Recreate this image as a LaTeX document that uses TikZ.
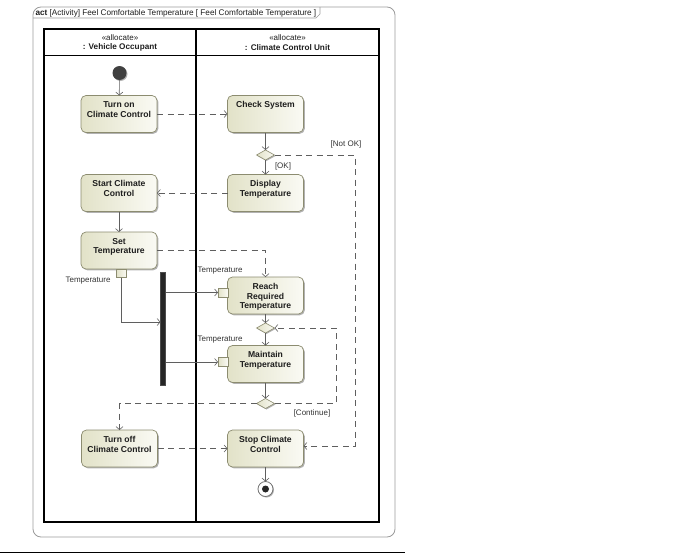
\documentclass[tikz,border=0pt]{standalone}
\usepackage{fontspec}
\setmainfont{Liberation Sans}
\usetikzlibrary{arrows.meta,shapes.geometric,shadows,calc}
\definecolor{nodefill}{RGB}{226,226,200}
\definecolor{nodelight}{RGB}{250,250,244}
\definecolor{nodeborder}{RGB}{140,140,112}
\definecolor{lineclr}{RGB}{95,95,95}
\definecolor{framegray}{RGB}{155,155,155}
\definecolor{txt}{RGB}{30,30,30}
\newcommand\acttxt[1]{\parbox[c][37pt][t]{76pt}{\centering\vspace*{6pt}#1\par}}
\begin{document}
\begin{tikzpicture}[x=1pt,y=-1pt,
  every node/.style={inner sep=0pt,outer sep=0pt,text=txt},
  action/.style={draw=nodeborder,line width=0.7pt,rounded corners=5pt,
    left color=nodefill,right color=nodelight,
    minimum width=76pt,minimum height=37pt,
    drop shadow={shadow xshift=1.3pt,shadow yshift=-1.3pt,opacity=0.3,fill=black},
    font=\fontsize{8.6}{9.8}\selectfont\bfseries},
  pinbox/.style={draw=nodeborder,line width=0.6pt,left color=nodefill,right color=nodelight,
    minimum width=10pt,minimum height=9pt},
  decision/.style={diamond,draw=nodeborder,line width=0.6pt,left color=nodefill,right color=nodelight,
    minimum width=18pt,minimum height=10pt,
    drop shadow={shadow xshift=1pt,shadow yshift=-1pt,opacity=0.3,fill=black}},
  lbl/.style={font=\fontsize{8}{9}\selectfont,text=black!80},
  flow/.style={draw=lineclr,line width=0.6pt,-{Straight Barb[length=3pt,width=7pt]}},
  flowd/.style={flow,dash pattern=on 6pt off 4.5pt},
  lane/.style={draw=black,line width=1.1pt}]
\useasboundingbox (0,0) rectangle (680,554);
% frame
\draw[framegray,line width=0.8pt,rounded corners=8pt] (33,7) rectangle (395,537);
\draw[framegray,line width=0.7pt] (320,7) -- (320,14) -- (316,18) -- (33,18);
\node[anchor=west,font=\fontsize{8.2}{9}\selectfont] (title) at (35.5,13.3)
  {\textbf{act} [Activity] Feel Comfortable Temperature [ Feel Comfortable Temperature ]};
\draw[black,line width=1pt] (0,552) -- (405,552);
% swimlanes
\draw[lane] (44,29) rectangle (379,522);
\draw[lane] (44,55.5) -- (379,55.5);
\draw[lane] (196,29) -- (196,522);
\node[font=\fontsize{8}{9}\selectfont] (al1) at (120,37.5) {«allocate»};
\node[font=\fontsize{8.2}{9}\selectfont\bfseries] (ln1) at (120,47.5) {: Vehicle Occupant};
\node[font=\fontsize{8}{9}\selectfont] (al2) at (287.5,37.5) {«allocate»};
\node[font=\fontsize{8.2}{9}\selectfont\bfseries] (ln2) at (287.5,47.5) {: Climate Control Unit};
% nodes
\node[circle,fill=black!75,minimum size=14pt,drop shadow={shadow xshift=1pt,shadow yshift=-1pt,opacity=0.3,fill=black}] (init) at (119.5,73) {};
\node[action] (turnon) at (119,114) {\acttxt{Turn on\\Climate Control}};
\node[action] (check) at (265.5,114) {\acttxt{Check System}};
\node[decision] (d1) at (265.5,155) {};
\node[action] (display) at (265.5,193) {\acttxt{Display\\Temperature}};
\node[action] (start) at (119,193) {\acttxt{Start Climate\\Control}};
\node[action] (set) at (119,250.5) {\acttxt{Set\\Temperature}};
\node[pinbox,minimum height=8pt] (setpin) at (121.5,273.5) {};
\node[fill=black!85,draw=black!70,minimum width=5pt,minimum height=113pt] (bar) at (163,328.5) {};
\node[action] (reach) at (265.5,295.5) {\acttxt{Reach\\Required\\Temperature}};
\node[pinbox] (reachpin) at (223,292.5) {};
\node[decision] (d2) at (265.5,328) {};
\node[action] (maint) at (265.5,364) {\acttxt{Maintain\\Temperature}};
\node[pinbox] (maintpin) at (223,362) {};
\node[decision] (d3) at (265.5,403.5) {};
\node[action] (turnoff) at (119.5,448.5) {\acttxt{Turn off\\Climate Control}};
\node[action] (stop) at (265.5,448.5) {\acttxt{Stop Climate\\Control}};
\node[circle,draw=black!55,line width=0.8pt,fill=white,minimum size=15pt,drop shadow={shadow xshift=1pt,shadow yshift=-1pt,opacity=0.3,fill=black}] (final) at (265.5,489) {};
\node[circle,fill=black!85,minimum size=7pt] (finaldot) at (final.center) {};
% labels
\node[lbl] (lnotok) at (346,144) {[Not OK]};
\node[lbl] (lok) at (283,166) {[OK]};
\node[lbl] (lcont) at (312,413) {[Continue]};
\node[lbl] (lt1) at (88,281) {Temperature};
\node[lbl] (lt2) at (220,271) {Temperature};
\node[lbl] (lt3) at (220,340) {Temperature};
% connectors
\draw[flow] (init) -- (turnon);
\draw[flowd] (turnon) -- (check);
\draw[flow] (check) -- (d1);
\draw[flow] (d1) -- (display);
\draw[flowd] (d1.east) -- (355,155) -- (355,446) -- ($(stop.east)+(0,-2.5)$);
\draw[flowd] (display) -- (start);
\draw[flow] (start) -- (set);
\draw[flowd] (set.east) -| (reach.north);
\draw[flow] (setpin.south) |- ($(bar.west)+(0,-6.5)$);
\draw[flow] (bar.east |- reachpin.west) -- (reachpin.west);
\draw[flow] (bar.east |- maintpin.west) -- (maintpin.west);
\draw[flow] (reach) -- (d2);
\draw[flow] (d2) -- (maint);
\draw[flow] (maint) -- (d3);
\draw[flowd] (d3.west) -| (turnoff.north);
\draw[flowd] (d3.east) -- (336,403.5) |- (d2.east);
\draw[flowd] (turnoff) -- (stop);
\draw[flow] (stop) -- (final);
\end{tikzpicture}
\end{document}
